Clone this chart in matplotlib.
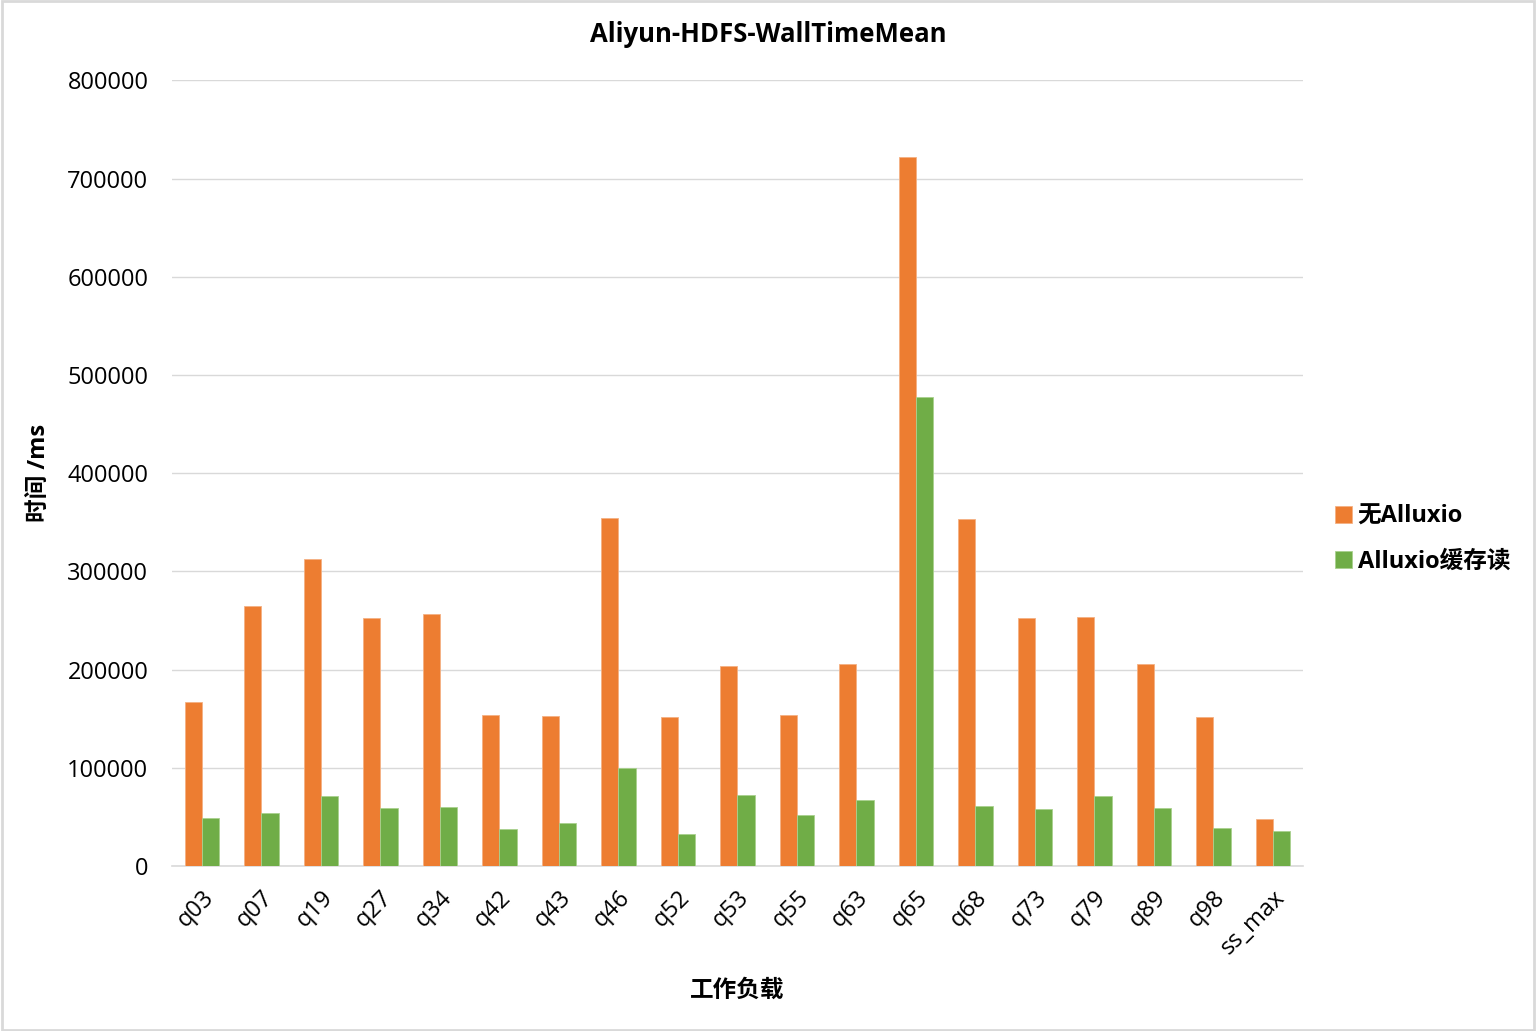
import numpy as np
import matplotlib.pyplot as plt
from matplotlib.patches import Rectangle

plt.rcParams['font.family'] = ['Open Sans', 'Noto Sans CJK SC', 'DejaVu Sans']

queries = ['q03', 'q07', 'q19', 'q27', 'q34', 'q42', 'q43', 'q46', 'q52', 'q53',
           'q55', 'q63', 'q65', 'q68', 'q73', 'q79', 'q89', 'q98', 'ss_max']
no_alluxio = [167500, 264600, 312500, 252400, 256500, 153700, 152700, 354200, 151700, 203600,
              153700, 205600, 721600, 353200, 252400, 253400, 205600, 151700, 47800]
alluxio_cache = [48900, 53900, 71200, 59000, 60000, 37700, 43800, 99700, 32600, 72300,
                 51900, 67200, 477400, 61100, 58000, 71200, 59000, 38700, 35600]

fig = plt.figure(figsize=(15.36, 10.31), dpi=100)
ax = fig.add_axes([0.112, 0.160, 0.736, 0.762])

x = np.arange(len(queries))
w = 0.29
ax.bar(x - w / 2, no_alluxio, w, color='#ED7D31', edgecolor='#F4B183', linewidth=0.6,
       label='无Alluxio', zorder=3)
ax.bar(x + w / 2, alluxio_cache, w, color='#70AD47', edgecolor='#A9D18E', linewidth=0.6,
       label='Alluxio缓存读', zorder=3)

ax.set_xlim(-0.5, len(queries) - 0.5)
ax.set_ylim(0, 800000)
ax.set_yticks(np.arange(0, 800001, 100000))
ax.set_yticklabels([str(v) for v in range(0, 800001, 100000)], fontsize=17)
ax.set_xticks(x)
ax.set_xticklabels(queries, rotation=45, ha='right', va='top', fontsize=17,
                   rotation_mode='anchor')
ax.tick_params(axis='y', length=0, pad=17)
ax.tick_params(axis='x', length=0, pad=14)
ax.grid(axis='y', color='#D9D9D9', linewidth=1, zorder=0)
for s in ['top', 'right', 'left']:
    ax.spines[s].set_visible(False)
ax.spines['bottom'].set_color('#D9D9D9')
ax.spines['bottom'].set_linewidth(1.2)

# title is centred on the whole figure, not the plot area
ax.set_title('Aliyun-HDFS-WallTimeMean', fontsize=18.5, fontweight='bold', pad=28, x=0.527)
ax.set_ylabel('时间 /ms', fontsize=17, fontweight='bold', labelpad=12)
ax.set_xlabel('工作负载', fontsize=17, fontweight='bold', labelpad=14)

leg = ax.legend(loc='center left', bbox_to_anchor=(1.01, 0.416), frameon=False,
                prop={'size': 17, 'weight': 'bold'}, handlelength=0.7, handleheight=0.7,
                handletextpad=0.25, labelspacing=0.9)

fig.patches.append(Rectangle((0.001, 0.001), 0.998, 0.998, transform=fig.transFigure,
                             fill=False, edgecolor='#D9D9D9', linewidth=2))

fig.savefig('out.png', dpi=100)
